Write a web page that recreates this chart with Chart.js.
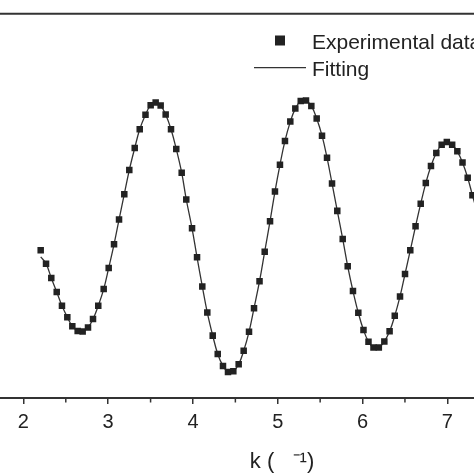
<!DOCTYPE html>
<html lang="en">
<head>
    <meta charset="UTF-8">
    <title>EXAFS oscillation fit</title>
    <script src="https://cdn.jsdelivr.net/npm/chart.js"></script>
    <style>
        html, body { margin: 0; padding: 0; background: #fff; overflow: hidden; width: 474px; height: 474px; }
        /* the figure is cropped: the plot frame runs past both window edges */
        #wrap { position: absolute; left: -25px; top: 0; width: 608px; height: 474px; }
    </style>
</head>
<body>
    <div id="wrap"><canvas id="fitChart"></canvas></div>

    <script>
        // k values
        const kValues = [
            2.204, 2.267, 2.329, 2.393, 2.455, 2.518, 2.577, 2.640, 2.699, 2.762,
            2.821, 2.883, 2.947, 3.006, 3.069, 3.128, 3.190, 3.249, 3.313, 3.372,
            3.440, 3.501, 3.560, 3.619, 3.678, 3.741, 3.803, 3.867, 3.921, 3.989,
            4.048, 4.110, 4.169, 4.233, 4.292, 4.354, 4.413, 4.476, 4.539, 4.598,
            4.661, 4.720, 4.785, 4.846, 4.909, 4.967, 5.026, 5.085, 5.148, 5.207,
            5.271, 5.333, 5.396, 5.459, 5.522, 5.581, 5.640, 5.702, 5.766, 5.825,
            5.887, 5.950, 6.011, 6.070, 6.129, 6.192, 6.257, 6.319, 6.380, 6.442,
            6.501, 6.563, 6.625, 6.686, 6.746, 6.807, 6.870, 6.933, 6.994, 7.057,
            7.118, 7.179, 7.240, 7.296
        ];

        // experimental points
        const expValues = [
            -0.301, -0.391, -0.488, -0.583, -0.676, -0.753, -0.814, -0.846, -0.850, -0.823,
            -0.766, -0.676, -0.563, -0.420, -0.260, -0.093, 0.079, 0.242, 0.391, 0.518,
            0.616, 0.681, 0.699, 0.679, 0.618, 0.518, 0.384, 0.224, 0.043, -0.152,
            -0.348, -0.545, -0.722, -0.878, -1.002, -1.083, -1.124, -1.119, -1.072, -0.981,
            -0.852, -0.692, -0.510, -0.310, -0.104, 0.097, 0.278, 0.439, 0.570, 0.658,
            0.710, 0.713, 0.676, 0.591, 0.475, 0.326, 0.152, -0.034, -0.224, -0.409,
            -0.576, -0.724, -0.840, -0.919, -0.959, -0.959, -0.918, -0.849, -0.744, -0.613,
            -0.461, -0.301, -0.138, 0.015, 0.154, 0.270, 0.357, 0.414, 0.432, 0.414,
            0.369, 0.293, 0.190, 0.072
        ];

        // fitted curve (last point runs just past the window edge)
        const fitK = kValues.concat([7.36]);
        const fitValues = [
            -0.345, -0.391, -0.488, -0.583, -0.676, -0.753, -0.814, -0.846, -0.850, -0.823,
            -0.766, -0.676, -0.563, -0.420, -0.260, -0.093, 0.079, 0.242, 0.391, 0.518,
            0.616, 0.681, 0.699, 0.679, 0.618, 0.518, 0.384, 0.224, 0.043, -0.152,
            -0.348, -0.545, -0.722, -0.878, -1.002, -1.083, -1.124, -1.119, -1.072, -0.981,
            -0.852, -0.692, -0.510, -0.310, -0.104, 0.097, 0.278, 0.439, 0.570, 0.658,
            0.710, 0.713, 0.676, 0.591, 0.475, 0.326, 0.152, -0.034, -0.224, -0.409,
            -0.576, -0.724, -0.840, -0.919, -0.959, -0.959, -0.918, -0.849, -0.744, -0.613,
            -0.461, -0.301, -0.138, 0.015, 0.154, 0.270, 0.357, 0.414, 0.432, 0.414,
            0.369, 0.293, 0.190, 0.072, -0.059
        ];

        const xMin = 1.5, xMax = 8.6, yMin = -1.3, yMax = 1.3;
        const ink = '#222';
        const fontFamily = "'Liberation Sans', Arial, Helvetica, sans-serif";

        // frame top, minor ticks and the legend
        const decorations = {
            id: 'decorations',
            afterDraw(chart) {
                const { ctx, chartArea: area } = chart;
                const xs = chart.scales.x;
                ctx.save();
                ctx.strokeStyle = '#333';
                ctx.lineWidth = 2;
                ctx.beginPath();
                ctx.moveTo(0, area.top);
                ctx.lineTo(chart.width, area.top);
                ctx.stroke();

                ctx.lineWidth = 1.5;
                xs.ticks.forEach(t => {
                    if (t.value % 1 === 0) return;
                    const px = xs.getPixelForValue(t.value);
                    ctx.beginPath();
                    ctx.moveTo(px, area.bottom);
                    ctx.lineTo(px, area.bottom + 4.5);
                    ctx.stroke();
                });

                const ds = chart.data.datasets;
                const lx = area.left + 299;
                ctx.fillStyle = ink;
                ctx.fillRect(lx - 5, 35.5, 10, 10);
                ctx.strokeStyle = '#333';
                ctx.lineWidth = 1.2;
                ctx.beginPath();
                ctx.moveTo(lx - 26, 67.7);
                ctx.lineTo(lx + 26, 67.7);
                ctx.stroke();
                ctx.font = '21px ' + fontFamily;
                ctx.textBaseline = 'alphabetic';
                ctx.textAlign = 'left';
                ctx.fillText(ds[0].label, lx + 32, 48.5);
                ctx.fillText(ds[1].label, lx + 32, 75.8);
                ctx.restore();
            }
        };

        const ctx = document.getElementById('fitChart').getContext('2d');
        new Chart(ctx, {
            type: 'scatter',
            data: {
                datasets: [{
                    label: 'Experimental data',
                    data: kValues.map((k, i) => ({ x: k, y: expValues[i] })),
                    pointStyle: 'rect',
                    pointRadius: 4.6,
                    pointBorderWidth: 0,
                    backgroundColor: ink,
                    order: 1
                }, {
                    label: 'Fitting',
                    data: fitK.map((k, i) => ({ x: k, y: fitValues[i] })),
                    showLine: true,
                    pointRadius: 0,
                    borderColor: '#333',
                    borderWidth: 1.3,
                    tension: 0.4,
                    order: 2
                }]
            },
            options: {
                responsive: true,
                maintainAspectRatio: false,
                animation: false,
                layout: { autoPadding: false, padding: { top: 13.7, left: 0, right: 0, bottom: 0 } },
                plugins: {
                    legend: { display: false },
                    tooltip: { enabled: false }
                },
                scales: {
                    x: {
                        type: 'linear',
                        min: xMin,
                        max: xMax,
                        border: { display: true, color: '#333', width: 2 },
                        grid: {
                            drawOnChartArea: false,
                            drawTicks: true,
                            tickLength: 6,
                            lineWidth: 1.5,
                            color: c => (c.tick && c.tick.value % 1 === 0) ? '#333' : 'rgba(0,0,0,0)'
                        },
                        ticks: {
                            stepSize: 0.5,
                            includeBounds: false,
                            autoSkip: false,
                            maxRotation: 0,
                            padding: 6,
                            color: ink,
                            font: { family: fontFamily, size: 20 },
                            callback: v => (v % 1 === 0 ? String(v) : '')
                        },
                        title: {
                            display: true,
                            text: 'k (   \u207B\u00B9)',
                            color: ink,
                            font: { family: fontFamily, size: 22, lineHeight: 1.1 },
                            padding: { top: 9.8, bottom: 0 }
                        }
                    },
                    y: {
                        display: false,
                        min: yMin,
                        max: yMax
                    }
                }
            },
            plugins: [decorations]
        });
    </script>
</body>
</html>
